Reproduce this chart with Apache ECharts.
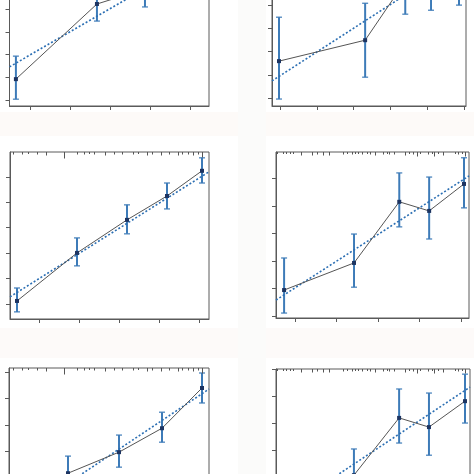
<!DOCTYPE html>
<html><head><meta charset="utf-8">
<script src="https://cdn.jsdelivr.net/npm/echarts@6/dist/echarts.min.js"></script>
<style>html,body{margin:0;padding:0;background:#fff;overflow:hidden;width:474px;height:474px}#c{position:absolute;left:0;top:-70px;width:474px;height:620px}</style>
</head><body><div id="c"></div>
<script>
// ---- data (abstract axis units; tick values are integers) ----
// panel 1 (top-left)
const p1X = [-0.35, 1.675, 2.875, 4.2];
const p1Y = [0.92, 4.22, 4.88, 6.6];
const p1Lo = [0.04, 3.47, 4.09, 5.8];
const p1Hi = [1.93, 4.97, 5.67, 7.4];
const p1Fit = [[-0.51, 1.46], [4.475, 6.53]];
// panel 2 (top-right)
const p2X = [-0.03, 2.31, 3.40, 4.10, 4.86];
const p2Y = [1.59, 2.49, 5.03, 4.86, 4.65];
const p2Lo = [-0.04, 0.90, 3.61, 3.78, 4.00];
const p2Hi = [3.48, 4.08, 6.45, 5.94, 5.30];
const p2Fit = [[-0.22, 0.74], [5.05, 6.12]];
// panel 3 (middle-left)
const p3X = [-0.55, 0.95, 2.2, 3.2, 4.075];
const p3Y = [0.12, 2.01, 3.31, 4.25, 5.24];
const p3Lo = [-0.31, 1.50, 2.76, 3.74, 4.76];
const p3Hi = [0.63, 2.60, 3.90, 4.76, 5.75];
const p3Fit = [[-0.725, 0.28], [4.25, 5.20]];
// panel 4 (middle-right)
const p4X = [-0.265, 1.42, 2.51, 3.23, 4.07];
const p4Y = [0.945, 1.93, 4.15, 3.82, 4.80];
const p4Lo = [0.11, 1.05, 3.24, 2.80, 3.93];
const p4Hi = [2.11, 2.98, 5.20, 5.05, 5.75];
const p4Fit = [[-0.46, 0.58], [4.19, 5.09]];
// panel 5 (bottom-left)
const p5X = [-0.55, 0.725, 2.0, 3.075, 4.075];
const p5Y = [-2.5, -0.84, -0.04, 0.87, 2.40];
const p5Lo = [-3.1, -1.49, -0.61, 0.34, 1.83];
const p5Hi = [-1.9, -0.19, 0.61, 1.48, 2.97];
const p5Fit = [[-0.75, -2.72], [4.25, 2.36]];
// panel 6 (bottom-right)
const p6X = [-0.265, 1.42, 2.51, 3.23, 4.10];
const p6Y = [-2.0, -0.93, 1.19, 0.85, 1.81];
const p6Lo = [-3.0, -1.89, 0.26, -0.19, 1.00];
const p6Hi = [-1.0, 0.04, 2.26, 2.11, 2.81];
const p6Fit = [[-0.46, -2.43], [4.22, 2.33]];
// rug marks along the top edge (x value, length)
const rugLeftX = [-0.65,-0.425,-0.275,-0.05,0.175,0.625,0.95,1.125,1.25,1.375,1.65,1.875,2.075,2.35,2.475,2.7,2.825,3.05,3.25,3.475,3.575,3.725,3.85,3.975,4.075];
const rugLeftL = [2,2,1.5,2,3,6,2,2,1.5,2,3,2,2,2,1.5,3,2,3,2,3,2,2,3,2,5];
const rugRightX = [-0.43,-0.29,-0.22,-0.12,-0.05,0.14,0.41,0.53,0.67,0.82,1.16,1.25,1.37,1.45,1.52,1.61,1.73,1.81,1.93,2.12,2.22,2.27,2.39,2.65,2.75,2.84,2.94,3.01,3.21,3.30,3.35,3.45,3.57,3.86,3.93,4.02,4.10];
const rugRightL = [1.5,1.5,1.5,1.5,1.5,3,3,2,3,3,2,1.5,2,1.5,1.5,2,1.5,2,3,2,1.5,2,2,3,1.5,2,4,1.5,2,1.5,4,1.5,3,1.5,2,1.5,4];
// axis ranges and tick values
const xRange = [[-0.51,4.475],[-0.22,5.05],[-0.725,4.25],[-0.46,4.19],[-0.75,4.25],[-0.46,4.22]];
const yRange = [[-0.26,7.03],[-0.34,6.8],[-0.59,5.98],[-0.07,5.96],[-3.19,3.16],[-3.07,3.0]];
const xTicks = [[0,1,2,3,4],[0,1,2,3,4,5],[0,1,2,3,4],[0,1,2,3,4],[0,1,2,3,4],[0,1,2,3,4]];
const yTicks = [[0,1,2,3,4,5,6],[0,1,2,3,4,5,6],[0,1,2,3,4,5],[0,1,2,3,4,5],[-3,-2,-1,0,1,2,3],[-3,-2,-1,0,1,2,3]];

// ---- layout (container is shifted up by OFF px) ----
const OFF = 70;
const grids = [
  {left: 9.5, top: -60, width: 199.5, height: 166},
  {left: 272, top: -60, width: 194, height: 166},
  {left: 10, top: 152, width: 199, height: 167},
  {left: 276, top: 152, width: 193, height: 166},
  {left: 9, top: 368, width: 200, height: 167},
  {left: 276, top: 369, width: 194, height: 164}
];
const panels = [
  [p1X,p1Y,p1Lo,p1Hi,p1Fit,null],
  [p2X,p2Y,p2Lo,p2Hi,p2Fit,null],
  [p3X,p3Y,p3Lo,p3Hi,p3Fit,'L'],
  [p4X,p4Y,p4Lo,p4Hi,p4Fit,'R'],
  [p5X,p5Y,p5Lo,p5Hi,p5Fit,'L'],
  [p6X,p6Y,p6Lo,p6Hi,p6Fit,'R']
];
const FRAME = '#5a5a5a', ERR = '#3d7bb8', PT = '#1d3461', LINE = '#555555', FIT = '#2c6fb3';

const option = {
  animation: false,
  backgroundColor: '#ffffff',
  graphic: [
    {type:'rect', shape:{x:0,y:112+OFF,width:474,height:24}, style:{fill:'#fdfaf8'}, z:-10, silent:true},
    {type:'rect', shape:{x:0,y:328+OFF,width:474,height:30}, style:{fill:'#fdfaf9'}, z:-10, silent:true},
    {type:'rect', shape:{x:238,y:0,width:28,height:620}, style:{fill:'#fbfbfa'}, z:-9, silent:true}
  ],
  grid: grids.map(g => ({show:true, borderColor:FRAME, borderWidth:1, backgroundColor:'#ffffff', containLabel:false,
    left:g.left, top:g.top+OFF, width:g.width, height:g.height})),
  xAxis: [], yAxis: [], series: []
};

panels.forEach((p, i) => {
  option.xAxis.push({
    type:'value', gridIndex:i, min:xRange[i][0], max:xRange[i][1],
    axisLine:{show:true, onZero:false, lineStyle:{color:FRAME}},
    axisTick:{show:true, inside:false, length:4, customValues:xTicks[i], lineStyle:{color:FRAME}},
    axisLabel:{show:false}, splitLine:{show:false}
  });
  option.yAxis.push({
    type:'value', gridIndex:i, min:yRange[i][0], max:yRange[i][1],
    axisLine:{show:true, onZero:false, lineStyle:{color:FRAME}},
    axisTick:{show:true, inside:false, length:4, customValues:yTicks[i], lineStyle:{color:FRAME}},
    axisLabel:{show:false}, splitLine:{show:false}
  });
  const [X,Y,Lo,Hi,Fit,rug] = p;
  option.series.push({
    type:'custom', xAxisIndex:i, yAxisIndex:i, z:2, clip:true,
    data: X.map((x,k) => [x, Lo[k], Hi[k]]),
    renderItem: (params, api) => {
      const lo = api.coord([api.value(0), api.value(1)]);
      const hi = api.coord([api.value(0), api.value(2)]);
      const w = 3;
      const st = {stroke: ERR, lineWidth: 1.2};
      return {type:'group', children:[
        {type:'line', shape:{x1:lo[0],y1:lo[1],x2:hi[0],y2:hi[1]}, style:{stroke:ERR, lineWidth:2}},
        {type:'line', shape:{x1:lo[0]-w,y1:lo[1],x2:lo[0]+w,y2:lo[1]}, style:st},
        {type:'line', shape:{x1:hi[0]-w,y1:hi[1],x2:hi[0]+w,y2:hi[1]}, style:st}
      ]};
    }
  });
  option.series.push({
    type:'line', xAxisIndex:i, yAxisIndex:i, z:3, clip:true, symbol:'none',
    data: Fit, lineStyle:{color:FIT, width:1.6, type:[2,2]}
  });
  option.series.push({
    type:'line', xAxisIndex:i, yAxisIndex:i, z:4, clip:true,
    symbol:'rect', symbolSize:4, showSymbol:true,
    data: X.map((x,k) => [x, Y[k]]),
    itemStyle:{color:PT}, lineStyle:{color:LINE, width:1}
  });
  if (rug) {
    const rx = rug === 'L' ? rugLeftX : rugRightX;
    const rl = rug === 'L' ? rugLeftL : rugRightL;
    const top = yRange[i][1];
    option.series.push({
      type:'custom', xAxisIndex:i, yAxisIndex:i, z:5, clip:false,
      data: rx.map((x,k) => [x, top, rl[k]]),
      renderItem: (params, api) => {
        const c = api.coord([api.value(0), api.value(1)]);
        const len = api.value(2);
        const x = Math.round(c[0]) + 0.5;
        return {type:'line', shape:{x1:x, y1:c[1], x2:x, y2:c[1] + len + 0.5},
          style:{stroke:'#555555', lineWidth:1}};
      }
    });
  }
});

const chart = echarts.init(document.getElementById('c'), null, {renderer:'canvas'});
chart.setOption(option);
</script></body></html>
